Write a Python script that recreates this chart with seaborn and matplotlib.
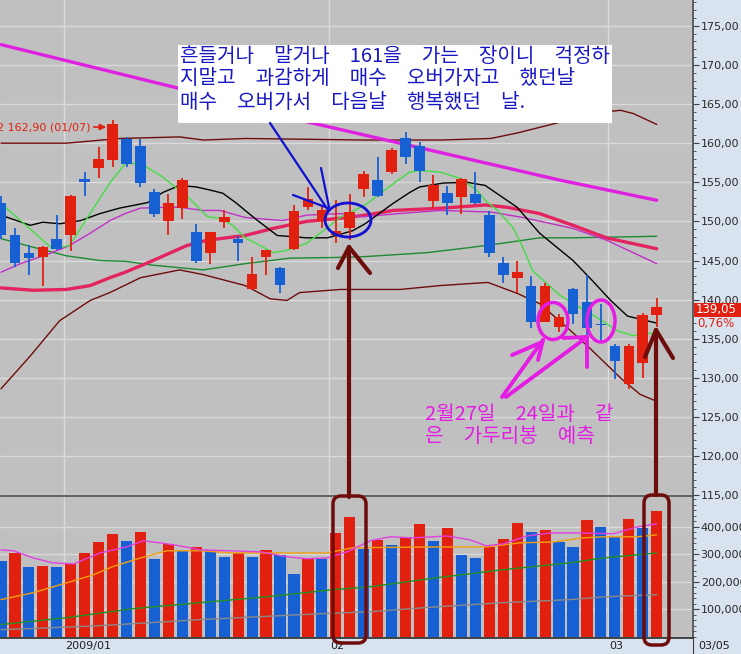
import numpy as np
import pandas as pd
import matplotlib
matplotlib.use("Agg")
import matplotlib.pyplot as plt
import matplotlib.patches as mpatches
import matplotlib.transforms as mtransforms
from matplotlib.lines import Line2D
from matplotlib.ticker import FixedLocator, MultipleLocator, FuncFormatter
import seaborn as sns

# daily candles 2008/12/23 .. 2009/03/05 (one per trading day)
opens = [152.3, 148.2, 145.9, 145.5, 147.7, 148.3, 155.4, 156.8, 157.8, 160.5,
         159.6, 153.7, 150.0, 151.7, 148.6, 146.0, 149.9, 147.8, 141.3, 145.5,
         144.1, 146.5, 151.9, 150.0, 148.2, 149.2, 154.2, 155.3, 156.3, 160.6,
         159.6, 152.6, 153.6, 153.1, 153.5, 150.8, 144.7, 142.8, 141.8, 137.2,
         136.5, 141.4, 139.7, 136.9, 134.1, 129.2, 131.9, 138.0]
highs = [153.3, 149.1, 147.0, 146.9, 150.8, 153.4, 156.3, 159.5, 162.9, 160.8,
         160.5, 154.2, 153.5, 155.6, 149.7, 148.7, 151.5, 148.1, 145.5, 146.4,
         144.2, 152.1, 154.4, 152.0, 152.7, 153.5, 156.4, 158.2, 159.4, 161.4,
         160.1, 155.9, 154.5, 155.5, 156.3, 151.3, 145.4, 145.0, 143.0, 142.1,
         138.1, 141.5, 143.1, 139.5, 134.3, 134.3, 138.3, 140.2]
lows = [147.8, 144.2, 143.1, 141.7, 146.3, 146.2, 153.2, 155.6, 156.9, 157.0,
        154.4, 150.5, 148.2, 150.3, 144.7, 144.6, 149.1, 144.9, 141.2, 143.2,
        140.8, 146.3, 151.5, 149.2, 147.2, 147.6, 153.1, 153.1, 156.1, 157.4,
        155.0, 151.7, 150.8, 151.0, 152.2, 145.5, 142.1, 140.9, 136.4, 137.1,
        135.8, 136.9, 133.8, 134.7, 129.9, 128.6, 130.0, 136.5]
closes = [148.3, 144.7, 145.3, 146.7, 146.5, 153.3, 155.1, 158.0, 162.4, 157.4,
          154.9, 151.0, 152.3, 155.3, 145.0, 148.6, 150.6, 147.2, 143.3, 146.3,
          141.9, 151.3, 152.8, 151.4, 148.8, 151.2, 156.0, 153.2, 159.1, 158.2,
          156.4, 154.6, 152.3, 155.4, 152.4, 146.0, 143.2, 143.5, 137.1, 141.8,
          137.8, 138.1, 136.4, 136.7, 132.2, 134.1, 138.0, 139.05]
volumes = [276, 305, 255, 258, 255, 265, 305, 346, 374, 349,
           382, 284, 338, 313, 327, 316, 291, 305, 291, 316,
           298, 229, 287, 284, 378, 436, 320, 353, 335, 364,
           411, 349, 396, 298, 287, 327, 356, 415, 382, 389,
           345, 327, 425, 400, 364, 429, 396, 458]  # thousand shares

month_first_bar = [5, 24, 44]
month_labels = ["2009/01", "02", "03"]
last_date = "03/05"
high_label = "2 162,90 (01/07)"
last_price = "139,05"
last_change = "0,76%"

# overlay lines: bar index -> value
ma5_x = [0, 3.7, 4.9, 6.2, 7.8, 8.9, 10, 11.4, 13.3, 14.8, 15.7, 16.6, 17.5, 18.6, 19.5,
         20.5, 21.9, 23.1, 24.3, 26.1, 28.4, 29.3, 30, 31.5, 32.9, 34.1, 34.7, 35.6,
         36.7, 37.4, 38.1, 39.1, 40.1, 41.3, 42.2, 44.2, 45.3, 47]
ma5_y = [152.3, 146.5, 146.9, 150.5, 154.9, 157.4, 157.4, 155.9, 153.3, 150.6, 150.4,
         149.5, 147.9, 146.9, 146.0, 146.3, 147.2, 148.8, 150.5, 152.1, 155.2, 156.3,
         156.5, 156.3, 155.5, 154.0, 152.7, 151.4, 149.2, 146.7, 143.7, 142.1, 140.5,
         139.2, 138.3, 136.0, 135.4, 135.8]
ma10_x = [0, 2.1, 3, 4.2, 5.7, 7.1, 8.5, 10.5, 11.6, 12.8, 14, 15, 15.9, 16.9, 17.5,
          18.4, 19.8, 21.9, 23.4, 25.2, 26.1, 28.1, 29.3, 30, 31.7, 33.4, 34.7, 37,
          38.6, 41, 42.4, 43.7, 44.9, 47]
ma10_y = [150.8, 149.5, 149.9, 149.7, 150.1, 151.0, 151.7, 152.4, 153.7, 154.6, 154.4,
          154.0, 153.6, 152.3, 151.4, 150.1, 148.2, 147.9, 147.9, 148.8, 149.7, 152.3,
          153.7, 154.4, 154.9, 155.0, 154.6, 151.8, 148.5, 145.0, 142.4, 139.9, 137.9,
          137.0]
ma20_x = [0, 1.4, 3.5, 4.9, 6.4, 7.8, 8.9, 10, 11.6, 12.8, 14.5, 15.7, 17.5, 20.2,
          21.9, 24.3, 26, 28.5, 31.5, 35.1, 37.4, 41, 43.4, 47]
ma20_y = [143.5, 144.6, 145.9, 146.9, 148.5, 150.1, 151.0, 151.7, 151.8, 151.8, 151.4,
          151.4, 150.5, 150.1, 150.8, 151.0, 150.6, 151.0, 151.4, 151.2, 150.5, 149.1,
          147.6, 144.6]
ma60_x = [0, 2.3, 4.7, 6.4, 7.8, 8.9, 10.9, 13.3, 14.8, 17.5, 19.5, 21.9, 24.3, 26.1,
          28.1, 31.7, 34.7, 36.3, 38.6, 41, 43.4, 47]
ma60_y = [141.5, 141.2, 141.3, 141.8, 142.8, 143.5, 145.0, 146.9, 147.6, 148.2, 149.1,
          150.0, 150.4, 150.8, 151.4, 151.7, 152.1, 151.8, 151.0, 149.5, 147.9, 146.5]
ma120_x = [0, 2.3, 4.7, 7.1, 8.9, 10.9, 14.5, 17.5, 20.7, 24.3, 26.1, 30.5, 33.8, 36.3,
           38.6, 41, 47]
ma120_y = [147.8, 146.7, 145.6, 145.0, 144.9, 144.4, 143.8, 144.6, 145.3, 145.4, 145.5,
           146.0, 146.7, 147.3, 147.9, 147.9, 148.1]
ma240_x = [0, 13, 22, 31.5, 40, 47]
ma240_y = [172.6, 166.9, 162.7, 158.8, 155.3, 152.7]
bb_up_x = [0, 4.7, 8.5, 12.8, 14.5, 17.5, 21.9, 26.1, 31.5, 35.1, 37, 39.9, 42.2, 44.4,
           45.3, 47]
bb_up_y = [160.0, 160.0, 160.6, 160.8, 160.4, 160.6, 160.5, 160.4, 160.4, 160.6, 161.3,
           162.6, 163.8, 164.2, 163.8, 162.4]
bb_lo_x = [0, 2.1, 4.2, 6.4, 7.8, 10, 12.8, 14.5, 17.5, 19.3, 20.5, 21.4, 24.3, 28.6,
           31.5, 34.9, 37, 38.6, 40.6, 42.2, 44.4, 45.8, 47]
bb_lo_y = [128.6, 132.8, 137.3, 139.9, 140.9, 142.8, 143.8, 143.2, 141.8, 140.1, 139.9,
           140.9, 141.3, 141.3, 141.8, 142.2, 140.8, 139.5, 136.4, 133.8, 130.0, 127.9,
           127.0]

vma5_x = [0, 0.9, 2.3, 3.7, 5.2, 7.1, 9, 10.2, 11.4, 12.8, 14.3, 16.4, 18.6, 20.5, 21.9,
          23.4, 24.8, 26.5, 27.9, 29.5, 32, 33.6, 34.8, 36, 37.7, 39.4, 41.5, 43.9,
          45.6, 47]
vma5_y = [316, 313, 287, 269, 265, 305, 327, 349, 342, 331, 316, 313, 309, 291, 284,
          287, 309, 350, 364, 360, 367, 353, 331, 338, 367, 378, 378, 375, 400, 411]
vma20_x = [0, 2.3, 4.7, 6.6, 8, 10, 11.9, 14.3, 16.6, 23.4, 25.2, 31.3, 34.8, 37.2,
           39.6, 41.7, 43.2, 45.6, 47]
vma20_y = [135, 160, 196, 225, 255, 287, 313, 313, 305, 305, 324, 327, 327, 342, 345,
           360, 364, 364, 371]
vma60_x = [0, 4.7, 9.5, 14.3, 19, 23.8, 26.5, 31.3, 36, 40.8, 43.2, 47]
vma60_y = [44, 69, 102, 124, 145, 171, 182, 215, 244, 269, 287, 305]
vma120_x = [0, 7.1, 14.3, 21.4, 26.5, 31.3, 36, 40.8, 43.2, 47]
vma120_y = [25, 40, 62, 80, 91, 109, 124, 135, 145, 153]

# the memo uses wide (full-width) word gaps
note_lines = ["흔들거나\u3000말거나\u3000161을\u3000가는\u3000장이니\u3000걱정하",
              "지말고\u3000과감하게\u3000매수\u3000오버가자고\u3000했던날",
              "매수\u3000오버가서\u3000다음날\u3000행복했던\u3000날."]
pink_lines = ["2월27일\u300024일과\u3000같", "은\u3000가두리봉\u3000예측"]

RED = "#E2200F"
BLUE = "#1660D4"
MAROON = "#6E0C0C"
MAGENTA = "#E41CE4"
KFONT = ["Noto Sans CJK KR", "DejaVu Sans"]

sns.set_theme(style="white")
plt.rcParams["font.family"] = ["DejaVu Sans", "Noto Sans CJK KR"]

W, H = 741, 654
fig = plt.figure(figsize=(W / 100, H / 100), dpi=100, facecolor="#D8E3EF")
ax_p = fig.add_axes([0, (H - 496) / H, 693 / W, 496 / H])
ax_v = fig.add_axes([0, (H - 638) / H, 693 / W, 141 / H])
# pixel coordinates measured from the top-left corner, for the hand-drawn notes
pix = mtransforms.Affine2D().scale(1 / W, -1 / H).translate(0, 1) + fig.transFigure

for ax in (ax_p, ax_v):
    ax.set_facecolor("#C0C0C0")
    ax.set_xlim(-0.07, 49.6)
    for side in ("left", "top", "bottom", "right"):
        ax.spines[side].set_visible(False)
    ax.spines["right"].set_visible(True)
    ax.spines["right"].set_color("#505050")
    ax.yaxis.tick_right()
    ax.set_xticks([m - 0.5 for m in month_first_bar])
    ax.grid(True, color="#DADADA", linewidth=1)
    ax.set_axisbelow(True)
    ax.tick_params(axis="y", which="major", direction="out", length=4, width=0.8,
                   color="#404040", labelsize=8, labelcolor="#2A2A2A", pad=1.5)
    ax.tick_params(axis="y", which="minor", direction="out", length=2, width=0.6,
                   color="#404040")
ax_p.spines["bottom"].set_visible(True)
ax_p.spines["bottom"].set_color("#505050")
ax_p.tick_params(axis="x", length=0, labelbottom=False)
ax_v.spines["bottom"].set_visible(True)
ax_v.spines["bottom"].set_color("#303030")
ax_v.tick_params(axis="x", direction="out", length=11.5, width=0.8, color="#404040",
                 labelbottom=False)

# ---- price panel ----
ax_p.set_ylim(114.9, 178.3)
ax_p.yaxis.set_major_locator(MultipleLocator(5))
ax_p.yaxis.set_minor_locator(MultipleLocator(1))
ax_p.yaxis.set_major_formatter(FuncFormatter(lambda v, _: f"{v:.2f}".replace(".", ",")))

overlays = [
    (bb_up_x, bb_up_y, MAROON, 1.0),
    (bb_lo_x, bb_lo_y, MAROON, 1.0),
    (ma120_x, ma120_y, "#1E8A32", 1.0),
    (ma240_x, ma240_y, "#E020E0", 2.4),
    (ma60_x, ma60_y, "#E4245E", 2.4),
    (ma20_x, ma20_y, "#C030C8", 1.0),
    (ma10_x, ma10_y, "#000000", 1.0),
    (ma5_x, ma5_y, "#44DD44", 1.0),
]
for xs, ys, col, lw in overlays:
    sns.lineplot(x=xs, y=ys, color=col, linewidth=lw, ax=ax_p, zorder=3)

idx = np.arange(len(closes))
o = np.array(opens)
c = np.array(closes)
candle_col = np.where(c >= o, RED, BLUE)
ax_p.vlines(idx, lows, highs, colors=candle_col, linewidth=1.3, zorder=4)
ax_p.bar(idx, np.maximum(np.abs(c - o), 0.15), bottom=np.minimum(o, c), width=0.76,
         color=candle_col, linewidth=0, zorder=5)

# ---- volume panel ----
vol = np.array(volumes) * 1000
vol_dir = ["down"] + ["up" if vol[i] > vol[i - 1] else "down" for i in range(1, len(vol))]
vol_df = pd.DataFrame({"bar": idx, "volume": vol, "dir": vol_dir})
sns.barplot(data=vol_df, x="bar", y="volume", hue="dir", palette={"up": RED, "down": BLUE},
            native_scale=True, dodge=False, width=0.8, saturation=1, errorbar=None,
            legend=False, linewidth=0, edgecolor="none", ax=ax_v, zorder=2)
for xs, ys, col in [(vma120_x, vma120_y, "#8A8A8A"), (vma60_x, vma60_y, "#229022"),
                    (vma20_x, vma20_y, "#F2A010"), (vma5_x, vma5_y, "#E040E0")]:
    sns.lineplot(x=xs, y=np.array(ys) * 1000, color=col, linewidth=1.0, ax=ax_v, zorder=4)
ax_v.set_xlim(-0.07, 49.6)
ax_v.set_ylim(-5000, 509000)
ax_v.set_xlabel("")
ax_v.set_ylabel("")
ax_p.set_xlabel("")
ax_p.set_ylabel("")
ax_v.yaxis.set_major_locator(FixedLocator([100000, 200000, 300000, 400000]))
ax_v.yaxis.set_minor_locator(MultipleLocator(20000))
ax_v.yaxis.set_major_formatter(FuncFormatter(lambda v, _: f"{int(round(v)):,}"))
ax_v.set_xticks([m - 0.5 for m in month_first_bar])

# date strip
date_tf = mtransforms.blended_transform_factory(ax_v.transData, pix)
for m, lab in zip(month_first_bar, month_labels):
    ax_v.text(m - 0.42, 646, lab, transform=date_tf, fontsize=8, color="#202020",
              ha="left", va="center", clip_on=False)
fig.add_artist(Line2D([693, 693], [638, 654], transform=pix, color="#404040", lw=0.8))
fig.text(698, 646, last_date, transform=pix, fontsize=8, color="#202020", va="center")

# last price tag
fig.add_artist(mpatches.Rectangle((694, 303), 47, 14, transform=pix, color=RED, lw=0))
fig.text(696, 310, last_price, transform=pix, fontsize=8.5, color="white", va="center")
fig.text(697, 323, last_change, transform=pix, fontsize=8.5, color=RED, va="center")

# high marker
fig.text(-3, 127, high_label, transform=pix, fontsize=8, color=RED, va="center")
fig.add_artist(mpatches.FancyArrowPatch((91, 127), (109, 127), transform=pix,
                                        arrowstyle="-|>", mutation_scale=9, color=RED, lw=1.2))

# note box
fig.add_artist(mpatches.Rectangle((178, 45), 434, 78, transform=pix, facecolor="white",
                                  edgecolor="none"))
for k, line in enumerate(note_lines):
    fig.text(180, 56 + 23 * k, line, transform=pix, fontsize=14.5, color="#1818C4",
             family=KFONT, va="center")


def strokes(segs, color, lw):
    for (x0, y0), (x1, y1) in segs:
        fig.add_artist(Line2D([x0, x1], [y0, y1], transform=pix, color=color, lw=lw,
                              solid_capstyle="round"))


strokes([((270, 123), (328, 210)), ((321, 168), (329, 207)), ((293, 195), (328, 208))],
        "#1010D0", 1.6)
fig.add_artist(mpatches.Ellipse((348, 220), 46, 34, transform=pix, fill=False,
                                edgecolor="#1010D0", lw=2))

strokes([((349, 497), (349, 247)), ((349, 247), (338, 268)), ((349, 247), (370, 273)),
         ((656, 495), (656, 330)), ((656, 330), (645, 357)), ((656, 330), (673, 358))],
        MAROON, 3)
for x0, y0, w, h in [(333, 496, 33, 147), (644, 495, 25, 150)]:
    fig.add_artist(mpatches.FancyBboxPatch((x0, y0), w, h, transform=pix,
                                           boxstyle="round,pad=0,rounding_size=8",
                                           fill=False, edgecolor=MAROON, lw=2.5))

fig.add_artist(mpatches.Ellipse((553, 321), 30, 37, transform=pix, fill=False,
                                edgecolor=MAGENTA, lw=2.5))
fig.add_artist(mpatches.Ellipse((601, 321), 28, 42, transform=pix, fill=False,
                                edgecolor=MAGENTA, lw=2.5))
strokes([((502, 397), (543, 340)), ((512, 355), (540, 343)), ((538, 360), (543, 340)),
         ((506, 397), (587, 337)), ((563, 338), (587, 337)), ((587, 367), (587, 337))],
        MAGENTA, 2.8)
for k, line in enumerate(pink_lines):
    fig.text(425, 415 + 22 * k, line, transform=pix, fontsize=14.5, color=MAGENTA,
             family=KFONT, va="center")

fig.savefig("out.png", dpi=100, facecolor=fig.get_facecolor())
